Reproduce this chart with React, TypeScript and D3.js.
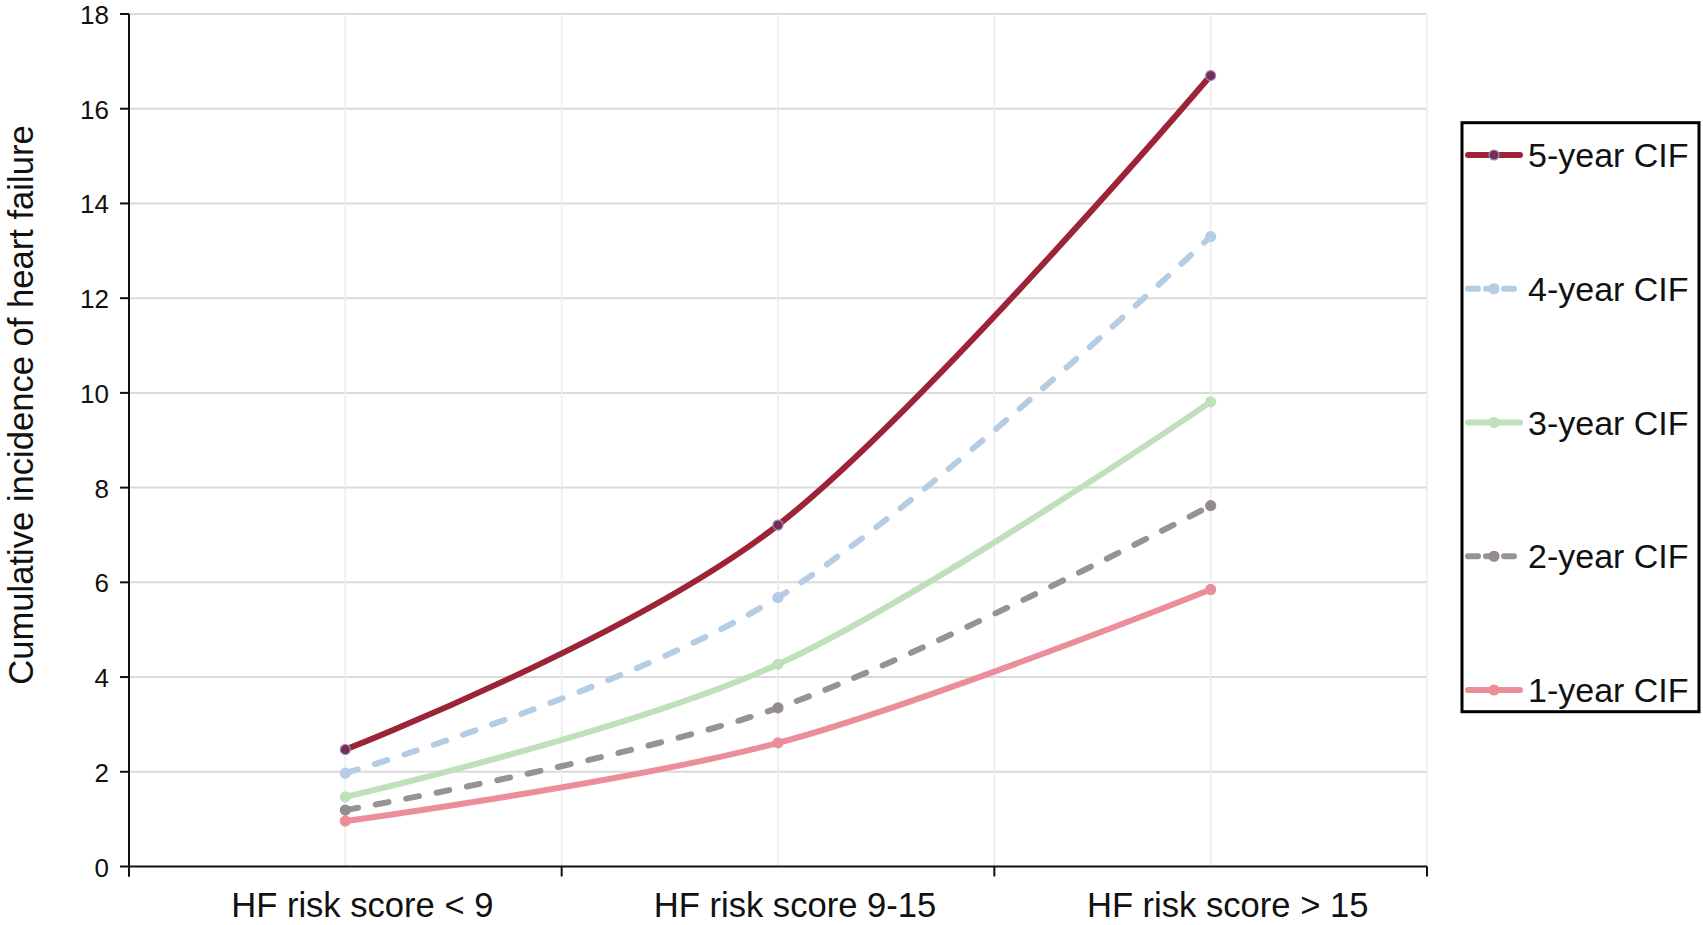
import React from "react";
import * as d3 from "d3";

const categories = ["HF risk score < 9", "HF risk score 9-15", "HF risk score > 15"];
const cif5 = [2.47, 7.21, 16.7];
const cif4 = [1.97, 5.68, 13.3];
const cif3 = [1.47, 4.27, 9.81];
const cif2 = [1.19, 3.35, 7.62];
const cif1 = [0.96, 2.61, 5.85];
const yTicks = [0, 2, 4, 6, 8, 10, 12, 14, 16, 18];
const legendLabels = ["5-year CIF", "4-year CIF", "3-year CIF", "2-year CIF", "1-year CIF"];

const W = 1703;
const H = 925;
const FONT = "'Liberation Sans', Arial, Helvetica, sans-serif";

type Series = { name: string; values: number[]; color: string; marker: string; markerStroke: string; dashed: boolean };

const series: Series[] = [
  { name: legendLabels[0], values: cif5, color: "#9c2338", marker: "#7a2a55", markerStroke: "#8d93b8", dashed: false },
  { name: legendLabels[1], values: cif4, color: "#b5cde4", marker: "#b5cde4", markerStroke: "#b5cde4", dashed: true },
  { name: legendLabels[2], values: cif3, color: "#bfe0bb", marker: "#bfe0bb", markerStroke: "#bfe0bb", dashed: false },
  { name: legendLabels[3], values: cif2, color: "#949494", marker: "#948c8c", markerStroke: "#948c8c", dashed: true },
  { name: legendLabels[4], values: cif1, color: "#ec8e9a", marker: "#ec8e9a", markerStroke: "#ec8e9a", dashed: false },
];

export default function App() {
  const x = d3.scaleBand<string>().domain(categories).range([129, 1427]).paddingInner(0).paddingOuter(0);
  const bw = x.bandwidth();
  const cx = (c: string) => (x(c) as number) + bw / 2;
  const y = d3.scaleLinear().domain([0, 18]).range([866.5, 14]);

  const line = d3
    .line<number>()
    .x((_, i) => cx(categories[i]))
    .y((d) => y(d))
    .curve(d3.curveCardinal.tension(0));

  const vGrid: number[] = [];
  categories.forEach((c) => {
    vGrid.push(cx(c));
    vGrid.push((x(c) as number) + bw);
  });
  const edgeTicks = [x(categories[0]) as number, ...categories.map((c) => (x(c) as number) + bw)];

  const legendY = d3.scalePoint<string>().domain(legendLabels).range([155, 690]);
  const lgX0 = 1468;
  const lgX1 = 1520;

  return (
    <svg
      width={W}
      height={H}
      style={{ position: "absolute", left: 0, top: 0, background: "#fff", display: "block" }}
    >
      <rect x={0} y={0} width={W} height={H} fill="#fff" />
      {yTicks.filter((t) => t > 0).map((t) => (
        <line key={"hg" + t} x1={129} x2={1427} y1={y(t)} y2={y(t)} stroke="#dadada" strokeWidth={2} />
      ))}
      {vGrid.map((v, i) => (
        <line key={"vg" + i} x1={v} x2={v} y1={y(18)} y2={y(0)} stroke="#ececec" strokeWidth={1.6} />
      ))}
      <line x1={129} x2={129} y1={y(18)} y2={y(0) + 10} stroke="#111" strokeWidth={2} />
      <line x1={129} x2={1427} y1={y(0)} y2={y(0)} stroke="#111" strokeWidth={2} />
      {yTicks.map((t) => (
        <g key={"yt" + t}>
          <line x1={120} x2={129} y1={y(t)} y2={y(t)} stroke="#111" strokeWidth={2} />
          <text x={109} y={y(t) + 10} textAnchor="end" fontFamily={FONT} fontSize={26} fill="#111">
            {t}
          </text>
        </g>
      ))}
      {edgeTicks.map((v, i) => (
        <line key={"xt" + i} x1={v} x2={v} y1={y(0)} y2={y(0) + 10} stroke="#111" strokeWidth={2} />
      ))}
      {categories.map((c) => (
        <text key={c} x={cx(c)} dx={17} y={917} textAnchor="middle" fontFamily={FONT} fontSize={34.6} fill="#111">
          {c}
        </text>
      ))}
      <text
        transform={`translate(33, 405) rotate(-90)`}
        textAnchor="middle"
        fontFamily={FONT}
        fontSize={34.6}
        fill="#111"
      >
        Cumulative incidence of heart failure
      </text>
      {[...series].reverse().map((s) => (
        <g key={s.name}>
          <path
            d={line(s.values) || ""}
            fill="none"
            stroke={s.color}
            strokeWidth={6}
            strokeLinecap="round"
            strokeDasharray={s.dashed ? "13 18" : undefined}
          />
          {s.values.map((v, i) => (
            <circle
              key={i}
              cx={cx(categories[i])}
              cy={y(v)}
              r={5}
              fill={s.marker}
              stroke={s.markerStroke}
              strokeWidth={1.2}
            />
          ))}
        </g>
      ))}
      <rect x={1462} y={122.7} width={237} height={589} fill="#fff" stroke="#000" strokeWidth={3} />
      {series.map((s) => {
        const ly = legendY(s.name) as number;
        return (
          <g key={"lg" + s.name}>
            <line
              x1={lgX0}
              x2={lgX1}
              y1={ly}
              y2={ly}
              stroke={s.color}
              strokeWidth={6}
              strokeLinecap="round"
              strokeDasharray={s.dashed ? "10 8" : undefined}
            />
            <circle cx={(lgX0 + lgX1) / 2} cy={ly} r={5} fill={s.marker} stroke={s.markerStroke} strokeWidth={1.2} />
            <text x={1528} y={ly + 12} fontFamily={FONT} fontSize={34} fill="#111">
              {s.name}
            </text>
          </g>
        );
      })}
    </svg>
  );
}
